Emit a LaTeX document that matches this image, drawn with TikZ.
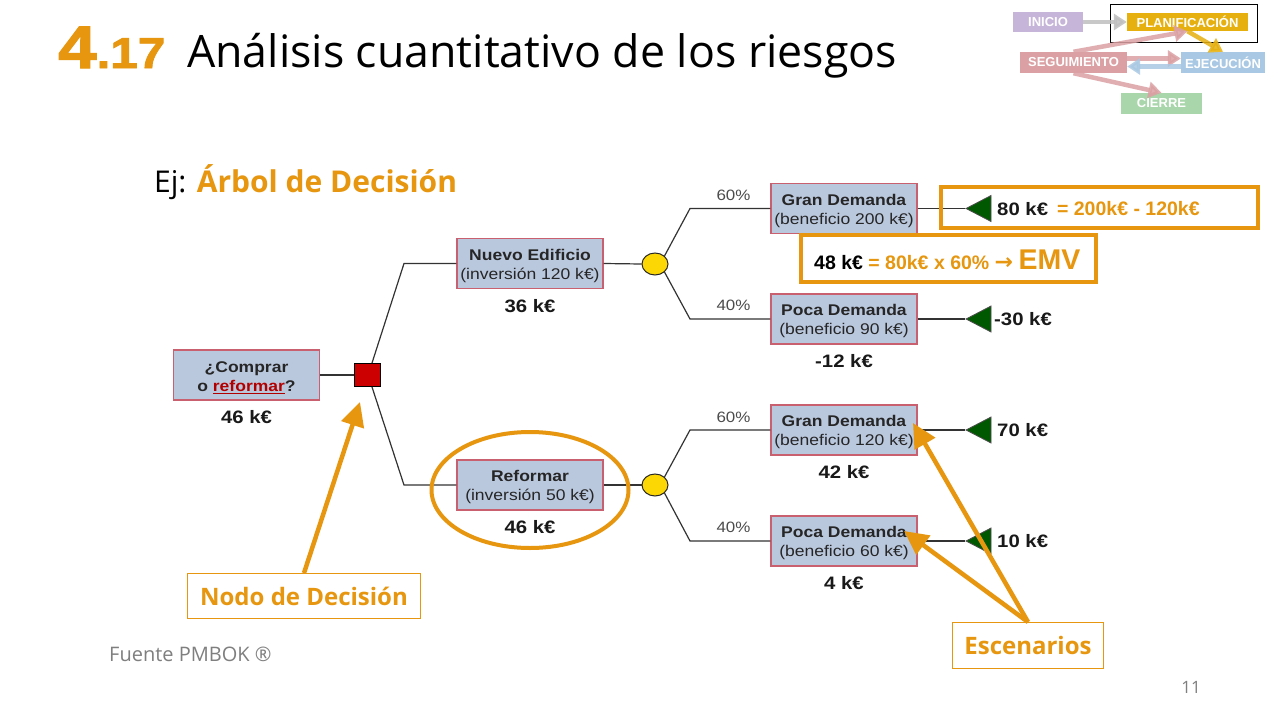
\documentclass[tikz,border=0pt]{standalone}
\usepackage{fontspec}
\setmainfont[FakeStretch=1.13]{Liberation Sans}
\newfontfamily\plainfont{Liberation Sans}
\newfontfamily\widefont[FakeStretch=1.15,FakeBold=2]{Liberation Sans}
\newfontfamily\titlefont{Open Sans}
\newfontfamily\symbfont{DejaVu Sans}
\usetikzlibrary{positioning,arrows.meta,shapes.geometric}
\definecolor{slideorange}{HTML}{E6960F}
\definecolor{boxfill}{HTML}{BAC8DE}
\definecolor{boxline}{HTML}{C9606F}
\definecolor{textgray}{HTML}{7F7F7F}
\definecolor{miniviolet}{HTML}{C6B4D9}
\definecolor{miniyellow}{HTML}{E6B00F}
\definecolor{minired}{HTML}{DBA0A3}
\definecolor{miniblue}{HTML}{A9C8E3}
\definecolor{minigreen}{HTML}{A9D6AB}
\newcommand{\modtext}[2]{\rule{0pt}{16pt}#1\\#2}
\tikzset{
  simple module/.style={draw=boxline, fill=boxfill, line width=1.3pt, inner sep=0pt, minimum width=146pt, minimum height=50pt, align=center, text=black!85, font=\fontsize{15.5}{19}\selectfont},
  value label/.style={inner sep=0pt, font=\fontsize{18}{20}\selectfont\bfseries, text=black!90},
  pct label/.style={inner sep=0pt, text=black!70, font=\fontsize{15}{18}\selectfont},
  chance node/.style={ellipse, draw=black!85, fill=yellow!75!orange, line width=1pt, inner sep=0pt, minimum width=26pt, minimum height=22pt},
  end node/.style={isosceles triangle, isosceles triangle stretches, shape border rotate=180, draw=black!70, fill=green!35!black, line width=.8pt, inner sep=0pt, minimum width=26pt, minimum height=25pt, anchor=apex},
  branch/.style={draw=black!80, line width=1.2pt},
  note box/.style={draw=slideorange, line width=1pt, inner sep=0pt, text=slideorange, font=\titlefont\fontsize{24}{28}\selectfont\bfseries},
  call box/.style={draw=slideorange, line width=4pt},
  orange arrow/.style={draw=slideorange, line width=4.5pt, -{Triangle[length=24pt,width=23pt]}},
  mini module/.style={inner sep=0pt, text=white, font=\plainfont\fontsize{13}{15}\selectfont\bfseries},
  mini arrow/.style={line width=4.5pt, opacity=.85, -{Triangle[length=13pt,width=16pt]}},
}
\begin{document}
\begin{tikzpicture}[x=1pt,y=-1pt]
\useasboundingbox (0,0) rectangle (1280,720);
\fill[white] (0,0) rectangle (1280,720);
%the title
\node [anchor=base west,inner sep=0pt,text=slideorange] (tNum) at (58,68) {\widefont\fontsize{60}{60}\selectfont\bfseries 4{\fontsize{43}{43}\selectfont .17}};
\node [anchor=base west,inner sep=0pt,text=black] (tTxt) at (187,67) {\titlefont\fontsize{44.7}{50}\selectfont Análisis cuantitativo de los riesgos};
\node [anchor=base west,inner sep=0pt,text=black] (tSub) at (154,192) {\titlefont\fontsize{30}{34}\selectfont Ej: \textcolor{slideorange}{\bfseries Árbol de Decisión}};
%the nodes
\node [simple module] (jA) at (246.5,375) {\modtext{\textbf{¿Comprar}}{\textbf{o \textcolor{red!70!black}{\underline{reformar}}?}}};
\node [value label,below=10pt of jA] (vA) {46 k€};
\node [draw=black,fill=red!80!black,line width=1pt,inner sep=0pt,minimum width=26pt,minimum height=23pt] (jR) at (367.5,375) {};
\node [simple module] (jB) at (530,263.5) {\modtext{\textbf{Nuevo Edificio}}{(inversión 120 k€)}};
\node [value label,below=10pt of jB] (vB) {36 k€};
\node [simple module] (jC) at (530,485) {\modtext{\textbf{Reformar}}{(inversión 50 k€)}};
\node [value label,below=10pt of jC] (vC) {46 k€};
\node [chance node] (cB) at (655,264) {};
\node [chance node] (cC) at (655,485) {};
\node [simple module] (jD) at (844,208.5) {\modtext{\textbf{Gran Demanda}}{(beneficio 200 k€)}};
\node [simple module] (jE) at (844,319) {\modtext{\textbf{Poca Demanda}}{(beneficio 90 k€)}};
\node [value label,below=10pt of jE] (vE) {-12 k€};
\node [simple module] (jF) at (844,430) {\modtext{\textbf{Gran Demanda}}{(beneficio 120 k€)}};
\node [value label,below=10pt of jF] (vF) {42 k€};
\node [simple module] (jG) at (844,541) {\modtext{\textbf{Poca Demanda}}{(beneficio 60 k€)}};
\node [value label,below=10pt of jG] (vG) {4 k€};
\node [end node] (eD) at (965,208.5) {};
\node [end node] (eE) at (965,319) {};
\node [end node] (eF) at (965,430) {};
\node [end node] (eG) at (965,541) {};
\node [value label,anchor=west] (pD) at (997,209) {80 k€\hspace{9pt}\textcolor{slideorange}{\plainfont\fontsize{19.5}{20}\selectfont\bfseries = 200k€ - 120k€}};
\node [value label,anchor=west] (pE) at (994,319) {-30 k€};
\node [value label,anchor=west] (pF) at (997,430) {70 k€};
\node [value label,anchor=west] (pG) at (997,541) {10 k€};
\node [pct label] (lD) at (733.5,195) {60\%};
\node [pct label] (lE) at (733.5,305) {40\%};
\node [pct label] (lF) at (733.5,417) {60\%};
\node [pct label] (lG) at (733.5,527) {40\%};
%the corners of the branches
\coordinate (kB) at (404,263.5);
\coordinate (kC) at (404,485);
\coordinate (kD) at (690,208.5);
\coordinate (kE) at (690,319);
\coordinate (kF) at (690,430);
\coordinate (kG) at (690,541);
%drawings of vectors
\draw[branch] (jA.east) -- (jR.west);
\draw[branch] (jR.north east) ++(-9,0) -- (kB) -- (jB.west);
\draw[branch] (jR.south east) ++(-9,0) -- (kC) -- (jC.west);
\draw[branch] (jB.east) -- (cB.west);
\draw[branch] (jC.east) -- (cC.west);
\draw[branch] (cB.north east) -- (kD) -- (jD.west);
\draw[branch] (cB.south east) -- (kE) -- (jE.west);
\draw[branch] (cC.north east) -- (kF) -- (jF.west);
\draw[branch] (cC.south east) -- (kG) -- (jG.west);
\draw[branch] (jD.east) -- (eD.apex);
\draw[branch] (jE.east) -- (eE.apex);
\draw[branch] (jF.east) -- (eF.apex);
\draw[branch] (jG.east) -- (eG.apex);
%the marks in orange
\draw[call box] (941,187) rectangle (1258,228);
\node [draw=slideorange,line width=4pt,fill=white,inner sep=0pt,minimum width=295pt,minimum height=47pt] (cEmv) at (948.5,258.5) {};
\node [anchor=base west,inner sep=0pt,text=black,font=\plainfont\fontsize{19.5}{22}\selectfont\bfseries] (pEmv) at (814,269) {48 k€ \textcolor{slideorange}{= 80k€ x 60\% {\symbfont\fontsize{22}{22}\selectfont→} {\fontsize{28.5}{30}\selectfont EMV}}};
\node [ellipse,draw=slideorange,line width=4pt,inner sep=0pt,minimum width=197pt,minimum height=116pt] (oC) at (530,490) {};
\node [note box,minimum width=233pt,minimum height=45pt] (jN) at (304,596) {Nodo de Decisión};
\node [note box,minimum width=151pt,minimum height=46pt] (jS) at (1028,645.5) {Escenarios};
\coordinate (tR) at (360,402);
\coordinate (tF) at (913,423);
\coordinate (tG) at (904,531);
\draw[orange arrow] (jN.north) -- (tR);
\draw[orange arrow] (jS.north) -- (tF);
\draw[orange arrow] (jS.north) -- (tG);
%the footer
\node [anchor=base west,inner sep=0pt,text=textgray] (fSrc) at (109,661) {\titlefont\fontsize{20}{24}\selectfont Fuente PMBOK ®};
\node [inner sep=0pt,text=textgray] (fNum) at (1191,687) {\titlefont\fontsize{17}{20}\selectfont 11};
%the small map
\draw[black,line width=1pt] (1110,4) rectangle (1257,42);
\node [mini module,fill=miniviolet,minimum width=70pt,minimum height=20pt] (mI) at (1048,22) {INICIO};
\node [mini module,fill=miniyellow,minimum width=121pt,minimum height=18pt] (mP) at (1187.5,22) {PLANIFICACIÓN};
\node [mini module,fill=minired,minimum width=107pt,minimum height=21pt] (mS) at (1073.5,62.5) {SEGUIMIENTO};
\node [mini module,fill=miniblue,minimum width=84pt,minimum height=21pt] (mE) at (1223,62.5) {EJECUCIÓN};
\node [mini module,fill=minigreen,minimum width=81pt,minimum height=21pt] (mC) at (1161.5,103.5) {CIERRE};
\draw[mini arrow,draw=gray!50] (mI.east) -- (mP.west);
\draw[mini arrow,draw=minired] (mS.north) -- (mP.south);
\draw[mini arrow,draw=miniyellow] (mP.south) -- (mE.north);
\draw[mini arrow,draw=minired] ([yshift=4pt]mS.east) -- ([yshift=4pt]mE.west);
\draw[mini arrow,draw=miniblue] ([yshift=-4pt]mE.west) -- ([yshift=-4pt]mS.east);
\draw[mini arrow,draw=minired] (mS.south) -- (mC.north);
\end{tikzpicture}
\end{document}
